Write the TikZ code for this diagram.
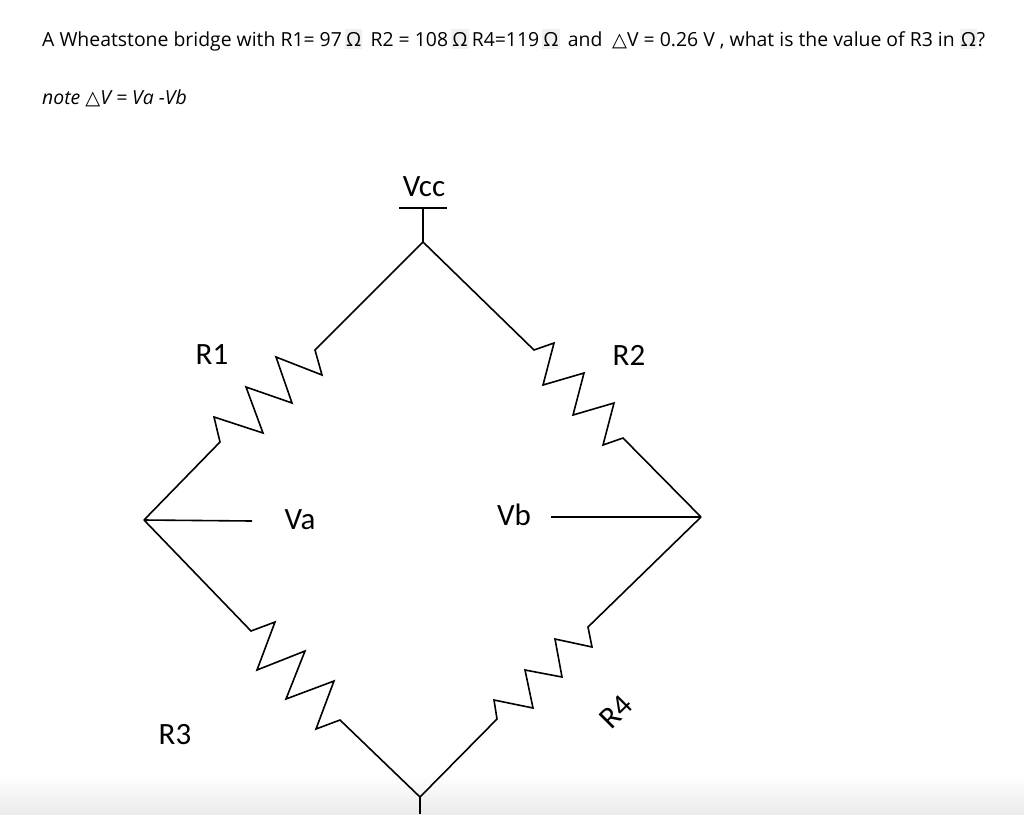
\documentclass[tikz,border=0pt]{standalone}
\usepackage{fontspec}
\setmainfont{Open Sans}
\newfontfamily\lab{Carlito}
\newfontfamily\sym{DejaVu Sans}
\begin{document}
\begin{tikzpicture}[x=1pt,y=-1pt,wire/.style={line width=1.6pt,line join=miter},
 lbl/.style={font=\lab\fontsize{31}{33}\selectfont,inner sep=0pt}]
\useasboundingbox (0,0) rectangle (1024,814);
\fill[white] (0,0) rectangle (1024,814);
\shade[top color=white,bottom color=black!8] (0,775) rectangle (1024,814);
\node[anchor=west,inner sep=0pt,font=\fontsize{19.4}{22}\selectfont] (q) at (42,40)
 {A Wheatstone bridge with R1= 97\,\colorbox{black!6}{\kern-2pt Ω\kern-2pt}\, R2 = 108\,\colorbox{black!6}{\kern-2pt Ω\kern-2pt}\,R4=119\,\colorbox{black!6}{\kern-2pt Ω\kern-2pt}\, and\enspace {\sym△}V = 0.26 V , what is the value of R3 in \colorbox{black!6}{\kern-2pt Ω\kern-2pt}?};
\node[anchor=west,inner sep=0pt,font=\itshape\fontsize{19.4}{22}\selectfont] (n) at (42,98)
 {note {\sym\upshape△}V = Va -Vb};
\coordinate (T) at (423,242);
\coordinate (L) at (144,520);
\coordinate (R) at (701,517);
\coordinate (B) at (420,797);
\coordinate (Tb) at (423,208);
\coordinate (Bb) at (420,814);
\coordinate (VaE) at (252,521);
\coordinate (VbE) at (551,517);
\draw[wire] (399,208) -- (447,208);
\draw[wire] (Tb) -- (T);
\draw[wire] (B) -- (Bb);
\draw[wire] (L) -- (220,442) -- (214,417) -- (263,433) -- (246,387) -- (292,403) -- (276,357) -- (322,375) -- (315,350) -- (T);
\draw[wire] (T) -- (534,350) -- (554,343) -- (543,385) -- (584,373) -- (573,415) -- (614,403) -- (603,445) -- (623,438) -- (R);
\draw[wire] (L) -- (251,631) -- (275,622) -- (257,670) -- (305,651) -- (286,699) -- (334,681) -- (316,729) -- (340,720) -- (B);
\draw[wire] (B) -- (497,719) -- (494,700) -- (533,708) -- (525,670) -- (562,677) -- (555,639) -- (592,647) -- (588,627) -- (R);
\draw[wire] (L) -- (VaE);
\draw[wire] (VbE) -- (R);
\node[lbl] (vcc) at (424,187) {Vcc};
\node[lbl] (r1) at (212,355) {R1};
\node[lbl] (r2) at (629,355) {R2};
\node[lbl] (va) at (300,520) {Va};
\node[lbl] (vb) at (514,515) {Vb};
\node[lbl] (r3) at (175,735) {R3};
\node[lbl,rotate=45] (r4) at (616,712) {R4};
\end{tikzpicture}
\end{document}
